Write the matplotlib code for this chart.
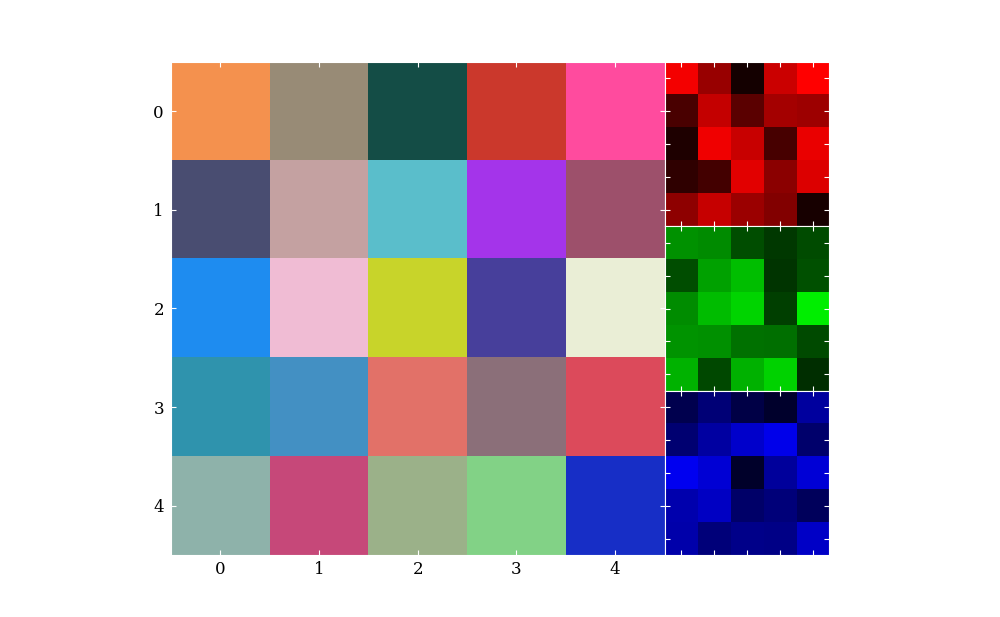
import matplotlib
matplotlib.use("Agg")
import matplotlib.pyplot as plt
import numpy as np
from mpl_toolkits.axes_grid1.axes_rgb import RGBAxes

plt.rcParams["font.family"] = "DejaVu Serif"
plt.rcParams["font.size"] = 12

# channel values (0-255), rows top to bottom
R = [[244, 152, 20, 203, 255],
     [73, 196, 90, 164, 157],
     [30, 240, 200, 71, 234],
     [47, 67, 226, 139, 220],
     [142, 198, 155, 130, 23]]
G = [[145, 139, 77, 56, 75],
     [77, 161, 190, 52, 80],
     [140, 188, 212, 63, 238],
     [147, 144, 113, 111, 74],
     [178, 72, 177, 210, 46]]
B = [[78, 118, 70, 44, 158],
     [113, 161, 203, 234, 107],
     [240, 212, 42, 155, 214],
     [173, 195, 104, 121, 91],
     [170, 121, 137, 134, 198]]

r = np.array(R) / 255.0
g = np.array(G) / 255.0
b = np.array(B) / 255.0

fig = plt.figure(figsize=(10, 6.17), dpi=100)
ax = RGBAxes(fig, [0.1, 0.1, 0.8, 0.8], pad=0.0)
ax.imshow_rgb(r, g, b, interpolation="nearest")

ticks = [0, 1, 2, 3, 4]
ax.RGB.set_xticks(ticks)
ax.RGB.set_yticks(ticks)
for a in [ax.RGB, ax.R, ax.G, ax.B]:
    a.tick_params(direction="in", color="w", top=True, right=True, pad=4)
ax.RGB.tick_params(axis="y", pad=5)

fig.savefig("out.png", dpi=100)
